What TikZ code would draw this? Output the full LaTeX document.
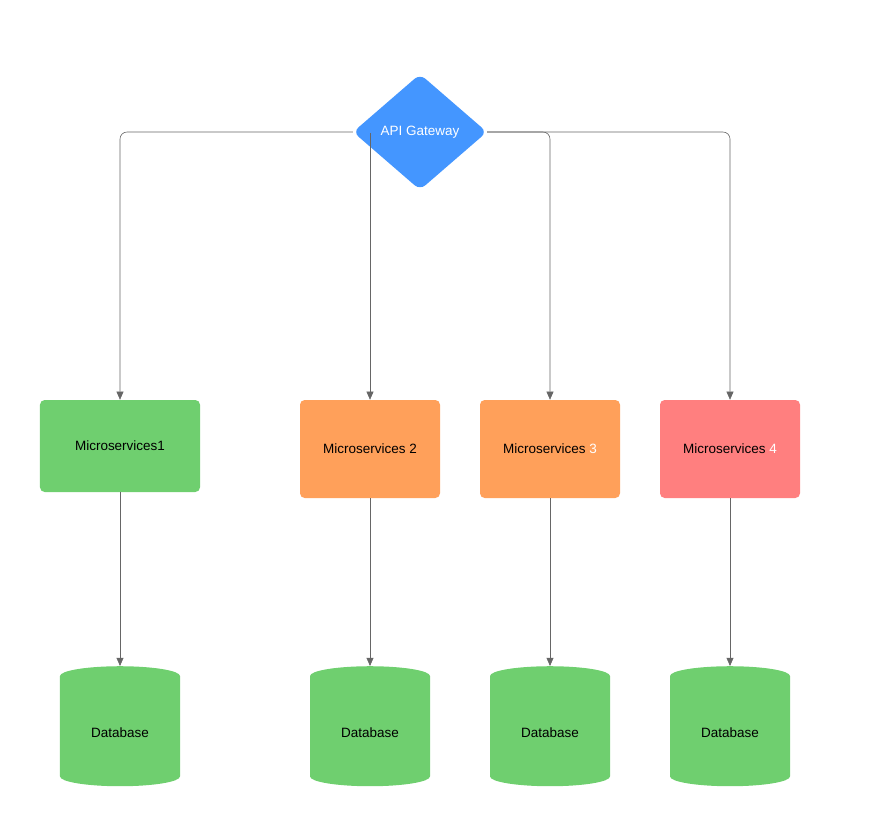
\documentclass[tikz,border=0pt]{standalone}
\usepackage{fontspec}
\setmainfont{Liberation Sans}
\usetikzlibrary{arrows.meta, shapes.geometric}
\definecolor{gwblue}{HTML}{4496FF}
\definecolor{msgreen}{HTML}{6FCF6F}
\definecolor{msorange}{HTML}{FFA05A}
\definecolor{msred}{HTML}{FF7F7F}
\definecolor{wire}{HTML}{666666}

\begin{document}
\begin{tikzpicture}[x=0.03cm, y=-0.03cm, font=\fontsize{11.5}{13}\selectfont,
    service/.style={rectangle, rounded corners=4pt, minimum width=4.2cm, minimum height=2.94cm},
    db/.style={cylinder, shape border rotate=90, aspect=0.3, fill=msgreen,
        minimum width=3.6cm, minimum height=3.6cm},
    link/.style={draw=wire, line width=0.5pt, rounded corners=6pt, -{Triangle[length=7pt, width=6pt]}}]
        \useasboundingbox (0,0) rectangle (869,833);

        \node[diamond, fill=gwblue, rounded corners=6pt, minimum width=4.02cm, minimum height=3.48cm,
            inner sep=0pt, text=white] (gw) at (420,132) {API Gateway};

        \node[service, fill=msgreen, minimum width=4.8cm, minimum height=2.76cm] (ms1) at (120,446) {Microservices1};
        \node[service, fill=msorange] (ms2) at (370,449) {Microservices 2};
        \node[service, fill=msorange] (ms3) at (550,449) {Microservices \textcolor{white}{3}};
        \node[service, fill=msred] (ms4) at (730,449) {Microservices \textcolor{white}{4}};

        \node[db] (db1) at (120,733) {Database};
        \node[db] (db2) at (370,733) {Database};
        \node[db] (db3) at (550,733) {Database};
        \node[db] (db4) at (730,733) {Database};

        \coordinate (j2) at (370,133);

        \draw[link] (gw.west) -| (ms1.north);
        \draw[link] (j2) -- (ms2.north);
        \draw[link] (gw.east) -| (ms3.north);
        \draw[link] (gw.east) -| (ms4.north);

        \draw[link] (ms1) -- (db1.top);
        \draw[link] (ms2) -- (db2.top);
        \draw[link] (ms3) -- (db3.top);
        \draw[link] (ms4) -- (db4.top);
    \end{tikzpicture}
\end{document}
